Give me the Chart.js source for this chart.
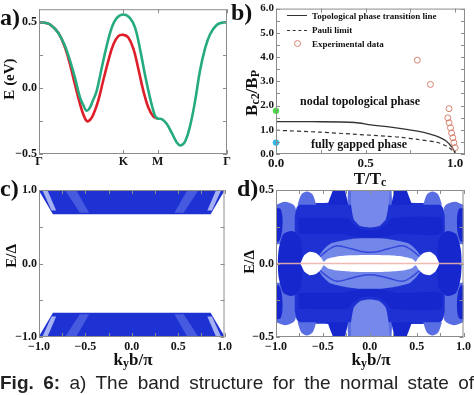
<!DOCTYPE html>
<html>
<head>
<meta charset="utf-8">
<script src="https://cdn.jsdelivr.net/npm/chart.js@4.4.1/dist/chart.umd.min.js"></script>
<style>
  html, body { margin: 0; padding: 0; background: #fff; }
  body { width: 474px; height: 395px; position: relative; overflow: hidden; font-family: 'Liberation Serif', serif; }
  canvas { position: absolute; }
  .t { position: absolute; font-weight: bold; color: #111; line-height: 1; white-space: nowrap; }
  .c { transform: translate(-50%, -50%); }
  .r { transform: translate(-50%, -50%) rotate(-90deg); }
  .panel { font-size: 24px; }
  .leg { font-size: 9px; transform: translateY(-50%); }
  sub { font-size: 70%; vertical-align: -0.25em; line-height: 0; }
  .caption { position: absolute; left: 0; top: 373px; width: 474px; font-family: 'Liberation Sans', sans-serif;
             font-size: 19px; line-height: 1; color: #222; text-align: justify; text-align-last: justify; }
</style>
</head>
<body>
<canvas id="chartA" width="235" height="180" style="left:0;top:0"></canvas>
<canvas id="chartB" width="237" height="180" style="left:237px;top:0"></canvas>
<canvas id="chartC" width="235" height="185" style="left:0;top:180px"></canvas>
<canvas id="chartD" width="237" height="185" style="left:237px;top:180px"></canvas>

<div class="t panel" style="left:0;top:5px">a)</div>
<div class="t panel" style="left:231px;top:0">b)</div>
<div class="t panel" style="left:0;top:176px">c)</div>
<div class="t panel" style="left:237px;top:176px">d)</div>

<div class="t r" style="left:9px;top:79px;font-size:15px">E (eV)</div>
<div class="t r" style="left:251px;top:93px;font-size:17px">B<sub>c2</sub>/B<sub>P</sub></div>
<div class="t c" style="left:370px;top:178px;font-size:17px">T/T<sub>c</sub></div>
<div class="t r" style="left:11px;top:256px;font-size:15px">E/Δ</div>
<div class="t r" style="left:249px;top:262px;font-size:15px">E/Δ</div>
<div class="t c" style="left:133px;top:359px;font-size:17px">k<sub>y</sub>b/π</div>
<div class="t c" style="left:371px;top:359px;font-size:17px">k<sub>y</sub>b/π</div>

<!-- legenda panelu b -->
<div style="position:absolute;left:287px;top:15px;width:20px;border-top:1.3px solid #333"></div>
<div style="position:absolute;left:287px;top:29.5px;width:20px;border-top:1.3px dashed #333"></div>
<div style="position:absolute;left:294px;top:40px;width:5px;height:5px;border:1px solid #d98070;border-radius:50%"></div>
<div class="t leg" style="left:312px;top:16px">Topological phase transition line</div>
<div class="t leg" style="left:312px;top:30px">Pauli limit</div>
<div class="t leg" style="left:312px;top:43.5px">Experimental data</div>
<div class="t c" style="left:360px;top:101px;font-size:12px">nodal topological phase</div>
<div class="t c" style="left:359px;top:144px;font-size:12px">fully gapped phase</div>

<div class="caption"><b>Fig. 6:</b> a) The band structure for the normal state of</div>

<script>
// Obrázek ze 4 panelů: a) pásová struktura, b) fázový diagram, c), d) spektra E/Δ.
// Každý panel je samostatný Chart.js graf na vlastním canvasu s pevnou plochou grafu.

// ====== DATA: a) ======

const aSymbolPos = [0, 0.449, 0.631, 1];
const aSymbolLabels = ['Γ', 'K', 'M', 'Γ'];
const aYTicks = [-0.5, 0, 0.5];
const aYTickLabels = ['−0.5', '0.0', '0.5'];
const aYMinor = [-0.25, 0.25];

const aGreenX = [0, 0.03, 0.059, 0.103, 0.138, 0.165, 0.191, 0.218, 0.236, 0.252, 0.268, 0.285, 0.307, 0.333, 0.36, 0.387, 0.413, 0.449, 0.484, 0.511, 0.537, 0.564, 0.59, 0.617, 0.631, 0.653, 0.679, 0.706, 0.732, 0.752, 0.777, 0.803, 0.83, 0.856, 0.883, 0.91, 0.945, 0.975, 1];
const aGreenY = [0.5, 0.497, 0.484, 0.42, 0.32, 0.21, 0.08, -0.07, -0.13, -0.17, -0.155, -0.1, -0.02, 0.15, 0.32, 0.46, 0.533, 0.56, 0.533, 0.46, 0.3, 0.1, -0.07, -0.21, -0.23, -0.235, -0.27, -0.34, -0.41, -0.435, -0.405, -0.29, -0.1, 0.13, 0.3, 0.41, 0.48, 0.498, 0.5];
const aRedX = [0, 0.03, 0.059, 0.103, 0.138, 0.165, 0.191, 0.218, 0.236, 0.254, 0.272, 0.289, 0.316, 0.342, 0.369, 0.395, 0.422, 0.449, 0.475, 0.502, 0.528, 0.555, 0.581, 0.608, 0.631];
const aRedY = [0.5, 0.497, 0.484, 0.42, 0.31, 0.18, 0.03, -0.12, -0.2, -0.25, -0.24, -0.2, -0.09, 0.06, 0.21, 0.33, 0.395, 0.405, 0.385, 0.3, 0.15, -0.02, -0.145, -0.215, -0.23];

// ====== DATA: b) ======

const bXTicks = [0, 0.5, 1];
const bXTickLabels = ['0.0', '0.5', '1.0'];
const bXMinor = [0.25, 0.75];
const bYTicks = [0, 1, 2, 3, 4, 5, 6];
const bYTickLabels = ['0.0', '1.0', '2.0', '3.0', '4.0', '5.0', '6.0'];
const bYMinor = [0.5, 1.5, 2.5, 3.5, 4.5, 5.5];

const bTopoX = [0, 0.2, 0.44, 0.53, 0.62, 0.7, 0.79, 0.86, 0.91, 0.95, 0.98, 0.995, 1];
const bTopoY = [1.34, 1.335, 1.3, 1.2, 1.13, 1.05, 0.94, 0.82, 0.7, 0.54, 0.3, 0.12, 0];
const bPauliX = [0, 0.25, 0.43, 0.62, 0.7, 0.79, 0.9, 0.95, 0.98, 1];
const bPauliY = [0.98, 0.9, 0.82, 0.73, 0.69, 0.6, 0.48, 0.33, 0.18, 0];
const bExpX = [0.789, 0.862, 0.966, 0.959, 0.966, 0.974, 0.98, 0.987, 0.993, 1];
const bExpY = [3.87, 2.87, 1.87, 1.49, 1.29, 1.08, 0.87, 0.67, 0.47, 0.26];
const bGreenDot = [0, 1.78];
const bCyanDot = [0, 0.47];

// ====== DATA: c) ======

const kTicks = [-1, -0.5, 0, 0.5, 1];
const kTickLabels = ['−1.0', '−0.5', '0.0', '0.5', '1.0'];
const kMinor = [-0.75, -0.25, 0.25, 0.75];
const cYTicks = [-1, 0, 1];
const cYTickLabels = ['−1.0', '0.0', '1.0'];
const cYMinor = [-0.5, 0.5];

const cBandTop = [[-0.99, 1.05], [0.99, 1.05], [0.99, 0.97], [0.85, 0.67], [-0.85, 0.67], [-0.99, 0.97]];
const cBandBottom = [[-0.99, -1.05], [0.99, -1.05], [0.99, -0.97], [0.85, -0.67], [-0.85, -0.67], [-0.99, -0.97]];
const cDiagTL = [[-0.72, 1], [-0.6, 1], [-0.46, 0.69], [-0.56, 0.69]];
const cDiagTR = [[0.6, 1], [0.72, 1], [0.56, 0.69], [0.46, 0.69]];
const cDiagBL = [[-0.72, -1], [-0.6, -1], [-0.46, -0.69], [-0.56, -0.69]];
const cDiagBR = [[0.6, -1], [0.72, -1], [0.56, -0.69], [0.46, -0.69]];
const cStripeTL = [[-0.965, 1], [-0.91, 1], [-0.815, 0.72], [-0.865, 0.72]];
const cStripeTR = [[0.91, 1], [0.965, 1], [0.865, 0.72], [0.815, 0.72]];
const cStripeBL = [[-0.965, -1], [-0.91, -1], [-0.815, -0.72], [-0.865, -0.72]];
const cStripeBR = [[0.91, -1], [0.965, -1], [0.865, -0.72], [0.815, -0.72]];

// ====== DATA: d) ======

const dYTicks = [-0.5, 0, 0.5];
const dYTickLabels = ['−0.5', '0.0', '0.5'];
const dYMinor = [-0.25, 0.25];

const dSideTL = [[-1, 0.4], [-0.9, 0.42], [-0.8, 0.39], [-0.78, 0.3], [-0.8, 0.2], [-0.9, 0.14], [-1, 0.13]];
const dSideBL = [[-1, -0.4], [-0.9, -0.42], [-0.8, -0.39], [-0.78, -0.3], [-0.8, -0.2], [-0.9, -0.14], [-1, -0.13]];
const dSideTR = [[1, 0.4], [0.9, 0.42], [0.8, 0.39], [0.78, 0.3], [0.8, 0.2], [0.9, 0.14], [1, 0.13]];
const dSideBR = [[1, -0.4], [0.9, -0.42], [0.8, -0.39], [0.78, -0.3], [0.8, -0.2], [0.9, -0.14], [1, -0.13]];
const dBlock = [[-0.8, 0.32], [-0.78, 0.38], [-0.74, 0.41], [0.74, 0.41], [0.78, 0.38], [0.8, 0.32], [0.8, -0.32], [0.78, -0.38], [0.74, -0.41], [-0.74, -0.41], [-0.78, -0.38], [-0.8, -0.32]];
const dEdgeTL = [[-1, 0.38], [-0.95, 0.37], [-0.93, 0.3], [-0.94, 0.2], [-0.97, 0.15], [-1, 0.15]];
const dEdgeBL = [[-1, -0.38], [-0.95, -0.37], [-0.93, -0.3], [-0.94, -0.2], [-0.97, -0.15], [-1, -0.15]];
const dEdgeTR = [[1, 0.38], [0.95, 0.37], [0.93, 0.3], [0.94, 0.2], [0.97, 0.15], [1, 0.15]];
const dEdgeBR = [[1, -0.38], [0.95, -0.37], [0.93, -0.3], [0.94, -0.2], [0.97, -0.15], [1, -0.15]];
const dColL = [[-0.72, 0.09], [-0.74, 0.17], [-0.82, 0.22], [-0.92, 0.2], [-0.97, 0.1], [-0.98, 0], [-0.97, -0.1], [-0.92, -0.2], [-0.82, -0.22], [-0.74, -0.17], [-0.72, -0.09]];
const dColR = [[0.72, 0.09], [0.74, 0.17], [0.82, 0.22], [0.92, 0.2], [0.97, 0.1], [0.98, 0], [0.97, -0.1], [0.92, -0.2], [0.82, -0.22], [0.74, -0.17], [0.72, -0.09]];
const dBumpTL = [[-0.77, 0.4], [-0.73, 0.47], [-0.67, 0.49], [-0.61, 0.47], [-0.57, 0.4]];
const dBumpTR = [[0.77, 0.4], [0.73, 0.47], [0.67, 0.49], [0.61, 0.47], [0.57, 0.4]];
const dBumpBL = [[-0.77, -0.4], [-0.73, -0.47], [-0.67, -0.49], [-0.61, -0.47], [-0.57, -0.4]];
const dBumpBR = [[0.77, -0.4], [0.73, -0.47], [0.67, -0.49], [0.61, -0.47], [0.57, -0.4]];
const dLobeTL = [[-0.45, 0.4], [-0.41, 0.47], [-0.37, 0.52], [-0.28, 0.52], [-0.25, 0.46], [-0.23, 0.4]];
const dLobeTR = [[0.45, 0.4], [0.41, 0.47], [0.37, 0.52], [0.28, 0.52], [0.25, 0.46], [0.23, 0.4]];
const dLobeBL = [[-0.45, -0.4], [-0.41, -0.47], [-0.37, -0.52], [-0.28, -0.52], [-0.25, -0.46], [-0.23, -0.4]];
const dLobeBR = [[0.45, -0.4], [0.41, -0.47], [0.37, -0.52], [0.28, -0.52], [0.25, -0.46], [0.23, -0.4]];
const dTopCenter = [[-0.24, 0.4], [-0.23, 0.52], [0.23, 0.52], [0.24, 0.4]];
const dBottomCenter = [[-0.24, -0.4], [-0.23, -0.52], [0.23, -0.52], [0.24, -0.4]];
const dBandTop = [[-0.76, 0.31], [-0.24, 0.31], [-0.18, 0.27], [-0.1, 0.235], [0, 0.225], [0.1, 0.235], [0.18, 0.27], [0.24, 0.31], [0.76, 0.31], [0.76, 0.2], [0.3, 0.2], [0.15, 0.18], [0, 0.175], [-0.15, 0.18], [-0.3, 0.2], [-0.76, 0.2]];
const dBandBottom = [[-0.76, -0.31], [-0.24, -0.31], [-0.18, -0.27], [-0.1, -0.235], [0, -0.225], [0.1, -0.235], [0.18, -0.27], [0.24, -0.31], [0.76, -0.31], [0.76, -0.2], [0.3, -0.2], [0.15, -0.18], [0, -0.175], [-0.15, -0.18], [-0.3, -0.2], [-0.76, -0.2]];
const dCupTop = [[-0.2, 0.52], [0.2, 0.52], [0.2, 0.4], [0.17, 0.3], [0.1, 0.255], [0, 0.245], [-0.1, 0.255], [-0.17, 0.3], [-0.2, 0.4]];
const dCupBottom = [[-0.2, -0.52], [0.2, -0.52], [0.2, -0.4], [0.17, -0.3], [0.1, -0.255], [0, -0.245], [-0.1, -0.255], [-0.17, -0.3], [-0.2, -0.4]];
const dEye = [[-0.56, 0.03], [-0.5, 0.09], [-0.42, 0.135], [-0.3, 0.155], [-0.15, 0.17], [0, 0.172], [0.15, 0.17], [0.3, 0.155], [0.42, 0.135], [0.5, 0.09], [0.56, 0.03],
              [0.56, -0.03], [0.5, -0.09], [0.42, -0.135], [0.3, -0.155], [0.15, -0.17], [0, -0.172], [-0.15, -0.17], [-0.3, -0.155], [-0.42, -0.135], [-0.5, -0.09], [-0.56, -0.03]];
const dWaveTop = [[-0.56, 0.03], [-0.45, 0.09], [-0.35, 0.12], [-0.2, 0.1], [-0.05, 0.078], [0.05, 0.078], [0.2, 0.1], [0.35, 0.12], [0.45, 0.09], [0.56, 0.03]];
const dWaveBottom = [[-0.56, -0.03], [-0.45, -0.09], [-0.35, -0.12], [-0.2, -0.1], [-0.05, -0.078], [0.05, -0.078], [0.2, -0.1], [0.35, -0.12], [0.45, -0.09], [0.56, -0.03]];
const dGap = [[-0.74, 0], [-0.7, 0.055], [-0.64, 0.08], [-0.57, 0.07], [-0.52, 0.04], [-0.49, 0.012], [-0.45, 0.032], [-0.35, 0.048], [-0.2, 0.056], [0, 0.058], [0.2, 0.056], [0.35, 0.048], [0.45, 0.032], [0.49, 0.012], [0.52, 0.04], [0.57, 0.07], [0.64, 0.08], [0.7, 0.055], [0.74, 0],
              [0.7, -0.055], [0.64, -0.08], [0.57, -0.07], [0.52, -0.04], [0.49, -0.012], [0.45, -0.032], [0.35, -0.048], [0.2, -0.056], [0, -0.058], [-0.2, -0.056], [-0.35, -0.048], [-0.45, -0.032], [-0.49, -0.012], [-0.52, -0.04], [-0.57, -0.07], [-0.64, -0.08], [-0.7, -0.055]];
const dZeroLine = [[-1, 0], [1, 0]];

// ====== BARVY ======

const GREEN = 'rgb(38,170,128)';
const RED = 'rgb(222,30,40)';
const BLUE_DARK = 'rgb(22,40,205)';
const BLUE = 'rgb(30,50,212)';
const BLUE_MID = 'rgb(90,110,228)';
const BLUE_LIGHT = 'rgb(118,136,234)';

// ====== UTIL ======

const serif = (size) => ({ family: "'Liberation Serif', serif", weight: 'bold', size });

// rámeček kolem plochy grafu + krátké tiky dovnitř
const frame = {
  id: 'frame',
  afterDraw(chart, args, opts) {
    const { ctx, chartArea: a, scales } = chart;
    ctx.save();
    ctx.strokeStyle = '#8c8c8c';
    ctx.lineWidth = 1;
    ctx.strokeRect(a.left + 0.5, a.top + 0.5, a.right - a.left - 1, a.bottom - a.top - 1);
    ctx.beginPath();
    const xs = scales.x.ticks.map(t => t.value).concat(opts.minorX || []);
    const ys = scales.y.ticks.map(t => t.value).concat(opts.minorY || []);
    xs.forEach(v => {
      const p = Math.round(scales.x.getPixelForValue(v)) + 0.5;
      ctx.moveTo(p, a.bottom); ctx.lineTo(p, a.bottom - 4);
      ctx.moveTo(p, a.top); ctx.lineTo(p, a.top + 4);
    });
    ys.forEach(v => {
      const p = Math.round(scales.y.getPixelForValue(v)) + 0.5;
      ctx.moveTo(a.left, p); ctx.lineTo(a.left + 4, p);
      ctx.moveTo(a.right, p); ctx.lineTo(a.right - 4, p);
    });
    ctx.stroke();
    ctx.restore();
  }
};

function toPoints(xs, ys) {
  return xs.map((x, i) => ({ x, y: ys[i] }));
}

function poly(points, color, tension = 0.3) {
  return {
    data: points.map(([x, y]) => ({ x, y })),
    backgroundColor: color,
    borderWidth: 0,
    pointRadius: 0,
    fill: 'shape',
    tension,
  };
}

function curve(points, color, width) {
  return { data: points.map(([x, y]) => ({ x, y })), borderColor: color, borderWidth: width, pointRadius: 0, tension: 0.4 };
}

function axis(min, max, ticks, labels, fontSize, pad, fixDim, fixPx) {
  return {
    type: 'linear', min, max,
    grid: { display: false, drawTicks: false },
    border: { display: false },
    afterBuildTicks: (s) => { s.ticks = ticks.map(v => ({ value: v })); },
    afterFit: (s) => { s[fixDim] = fixPx; },
    ticks: {
      autoSkip: false, maxRotation: 0, padding: pad,
      color: '#151515', font: serif(fontSize),
      callback: (v, i) => labels[i],
    },
  };
}

function makeChart(id, datasets, x, y, padding, minor) {
  // první dataset v seznamu leží vespod
  const n = datasets.length;
  datasets.forEach((d, i) => { d.order = n - i; });
  return new Chart(document.getElementById(id), {
    type: 'line',
    data: { datasets },
    options: {
      responsive: false, animation: false, devicePixelRatio: 1,
      layout: { padding },
      scales: { x, y },
      plugins: { legend: { display: false }, tooltip: { enabled: false }, frame: minor },
    },
    plugins: [frame],
  });
}

// ====== PANEL A ======

makeChart('chartA', [
  { data: toPoints(aRedX, aRedY), borderColor: RED, borderWidth: 2.6, pointRadius: 0, tension: 0.4 },
  { data: toPoints(aGreenX, aGreenY), borderColor: GREEN, borderWidth: 2.6, pointRadius: 0, tension: 0.4 },
],
  axis(0, 1, aSymbolPos, aSymbolLabels, 12, 1, 'height', 26),
  axis(-0.5, 0.6, aYTicks, aYTickLabels, 12, 2, 'width', 39),
  { top: 6, right: 8, left: 0, bottom: 0 },
  { minorY: aYMinor });

// ====== PANEL B ======

makeChart('chartB', [
  { data: toPoints(bPauliX, bPauliY), borderColor: '#333', borderWidth: 1.2, borderDash: [4, 3], pointRadius: 0, tension: 0.3 },
  { data: toPoints(bTopoX, bTopoY), borderColor: '#333', borderWidth: 1.3, pointRadius: 0, tension: 0.3 },
  { data: toPoints(bExpX, bExpY), showLine: false, pointRadius: 3, pointBorderWidth: 1,
    pointBorderColor: 'rgb(217,128,110)', pointBackgroundColor: 'rgba(255,255,255,0)' },
  { data: [{ x: bGreenDot[0], y: bGreenDot[1] }], showLine: false, pointRadius: 3.2, pointBorderWidth: 0,
    pointBackgroundColor: 'rgb(70,220,70)', clip: false },
  { data: [{ x: bCyanDot[0], y: bCyanDot[1] }], showLine: false, pointRadius: 3.2, pointBorderWidth: 0,
    pointBackgroundColor: 'rgb(45,185,230)', clip: false },
],
  axis(0, 1.055, bXTicks, bXTickLabels, 13, 2, 'height', 26),
  axis(0, 6, bYTicks, bYTickLabels, 11, 2, 'width', 39),
  { top: 7, right: 9, left: 0, bottom: 0 },
  { minorX: bXMinor, minorY: bYMinor });

// ====== PANEL C ======

makeChart('chartC', [
  poly(cBandTop, BLUE, 0),
  poly(cBandBottom, BLUE, 0),
  poly(cDiagTL, 'rgba(110,130,235,0.5)', 0),
  poly(cDiagTR, 'rgba(110,130,235,0.5)', 0),
  poly(cDiagBL, 'rgba(110,130,235,0.5)', 0),
  poly(cDiagBR, 'rgba(110,130,235,0.5)', 0),
  poly(cStripeTL, 'rgba(190,200,248,0.85)', 0),
  poly(cStripeTR, 'rgba(190,200,248,0.85)', 0),
  poly(cStripeBL, 'rgba(190,200,248,0.85)', 0),
  poly(cStripeBR, 'rgba(190,200,248,0.85)', 0),
],
  axis(-1, 1, kTicks, kTickLabels, 12, 3, 'height', 28),
  axis(-1, 1, cYTicks, cYTickLabels, 12, 2, 'width', 39),
  { top: 10, right: 7, left: 0, bottom: 0 },
  { minorX: kMinor, minorY: cYMinor });

// ====== PANEL D ======

makeChart('chartD', [
  poly(dSideTL, BLUE_MID),
  poly(dSideBL, BLUE_MID),
  poly(dSideTR, BLUE_MID),
  poly(dSideBR, BLUE_MID),
  poly(dBlock, BLUE, 0.15),
  poly(dEdgeTL, BLUE_DARK),
  poly(dEdgeBL, BLUE_DARK),
  poly(dEdgeTR, BLUE_DARK),
  poly(dEdgeBR, BLUE_DARK),
  poly(dColL, BLUE_DARK, 0.25),
  poly(dColR, BLUE_DARK, 0.25),
  poly(dBumpTL, BLUE_MID),
  poly(dBumpTR, BLUE_MID),
  poly(dBumpBL, BLUE_MID),
  poly(dBumpBR, BLUE_MID),
  poly(dTopCenter, BLUE_MID, 0),
  poly(dBottomCenter, BLUE_MID, 0),
  poly(dLobeTL, BLUE_DARK),
  poly(dLobeTR, BLUE_DARK),
  poly(dLobeBL, BLUE_DARK),
  poly(dLobeBR, BLUE_DARK),
  poly(dBandTop, BLUE_DARK, 0.2),
  poly(dBandBottom, BLUE_DARK, 0.2),
  poly(dCupTop, BLUE_LIGHT, 0.2),
  poly(dCupBottom, BLUE_LIGHT, 0.2),
  poly(dEye, 'rgba(120,140,234,0.95)', 0.2),
  curve(dWaveTop, 'rgba(40,60,215,0.85)', 1.5),
  curve(dWaveBottom, 'rgba(40,60,215,0.85)', 1.5),
  poly(dGap, '#fff', 0.2),
  { data: dZeroLine.map(([x, y]) => ({ x, y })), borderColor: 'rgba(236,178,168,0.9)', borderWidth: 1.3, pointRadius: 0 },
],
  axis(-1, 1, kTicks, kTickLabels, 12, 3, 'height', 28),
  axis(-0.5, 0.5, dYTicks, dYTickLabels, 12, 2, 'width', 39),
  { top: 10, right: 9, left: 0, bottom: 0 },
  { minorX: kMinor, minorY: dYMinor });
</script>
</body>
</html>
